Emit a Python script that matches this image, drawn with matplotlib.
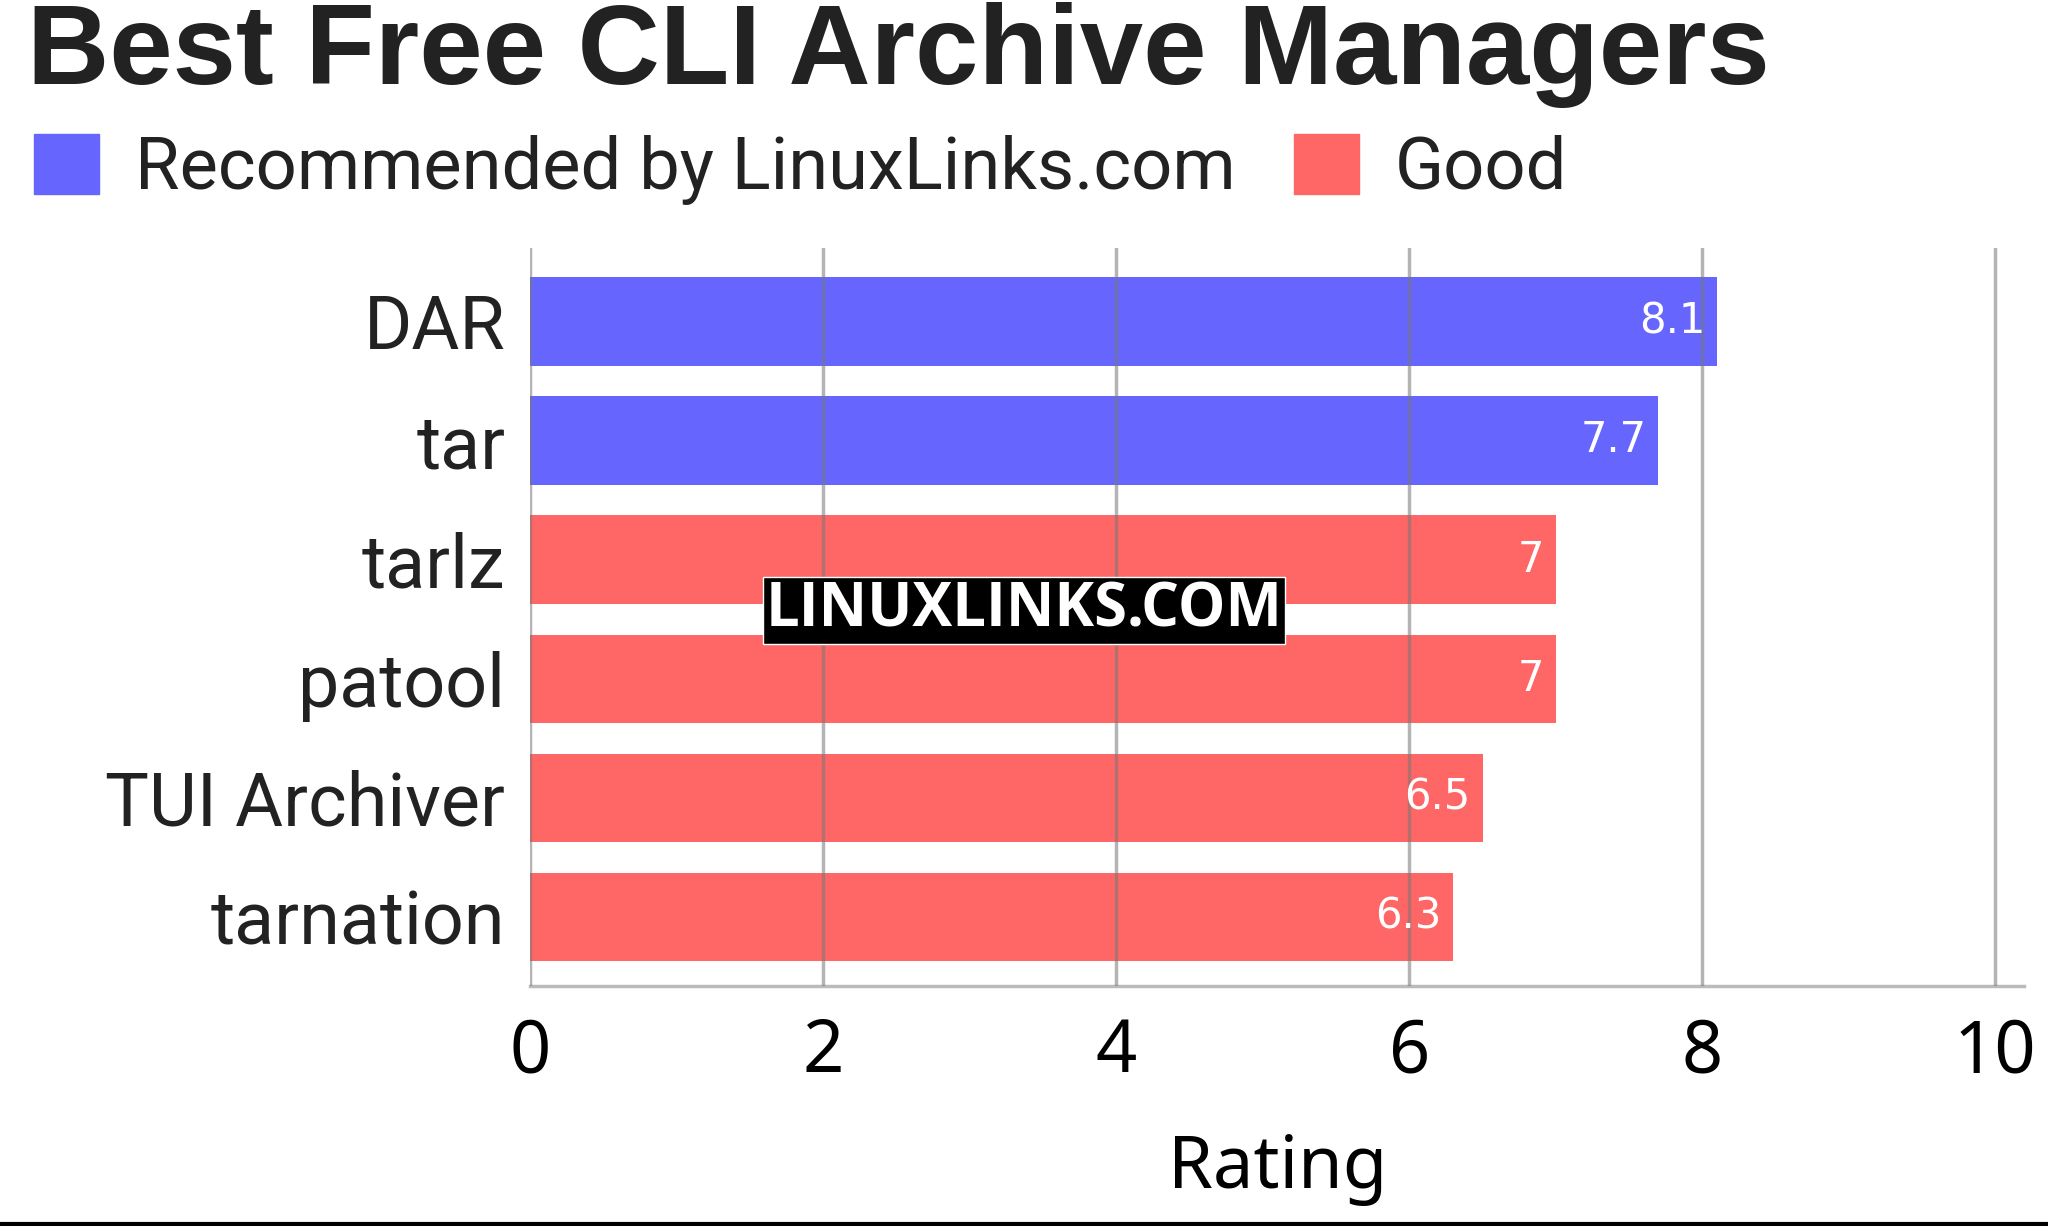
import matplotlib
matplotlib.use('Agg')
import matplotlib.pyplot as plt
from matplotlib.patches import Patch

names = ['DAR', 'tar', 'tarlz', 'patool', 'TUI Archiver', 'tarnation']
ratings = [8.1, 7.7, 7, 7, 6.5, 6.3]
groups = ['rec', 'rec', 'good', 'good', 'good', 'good']
colors = {'rec': '#6666ff', 'good': '#ff6666'}
legend_labels = ['Recommended by LinuxLinks.com', 'Good']

plt.rcParams['font.family'] = ['Noto Sans', 'DejaVu Sans']
fig = plt.figure(figsize=(20.48, 12.26), dpi=100)
ax = fig.add_axes([0.259, 0.196, 0.7295, 0.602])

y = list(range(len(names)))
ax.barh(y, ratings, height=0.74, color=[colors[g] for g in groups], zorder=1)
for yi, v in zip(y, ratings):
    ax.text(v - 0.08, yi, f'{v:g}', color='white', ha='right', va='center', fontsize=30,
            family='DejaVu Sans', zorder=3)

ax.set_ylim(len(names) - 0.42, -0.62)
ax.set_xlim(0, 10.2)
ax.set_yticks(y)
ax.set_yticklabels(names, fontsize=53, family='Roboto', color='#222222')
ax.set_xticks([0, 2, 4, 6, 8, 10])
ax.tick_params(axis='x', labelsize=52, length=0, pad=22)
ax.tick_params(axis='y', length=0, pad=18)
ax.xaxis.grid(True, color='#777777', alpha=0.55, linewidth=2.5, zorder=2)
ax.set_axisbelow(False)
for s in ['top', 'right', 'left']:
    ax.spines[s].set_visible(False)
ax.spines['bottom'].set_color('#bbbbbb')
ax.spines['bottom'].set_linewidth(2.5)
ax.set_xlabel('Rating', fontsize=52, labelpad=30)

fig.text(0.013, 0.998, 'Best Free CLI Archive Managers', fontsize=82, fontweight='bold',
         family='Liberation Sans', color='#222222', va='top')
handles = [Patch(color=colors['rec']), Patch(color=colors['good'])]
fig.legend(handles, legend_labels, loc='center left', bbox_to_anchor=(-0.015, 0.862), ncol=2,
           frameon=False, handlelength=0.9, handleheight=0.9, handletextpad=0.5,
           columnspacing=0.8, prop={'family': 'Roboto', 'size': 52})
for t in fig.legends[0].get_texts():
    t.set_color('#222222')

fig.text(0.5, 0.502, 'LINUXLINKS.COM', fontsize=43, fontweight='bold', color='white',
         family='Open Sans', ha='center', va='center',
         bbox=dict(facecolor='black', edgecolor='white', pad=2))
fig.add_artist(plt.Line2D([0, 1], [0.002, 0.002], color='black', linewidth=3))

fig.savefig('out.png', dpi=100)
